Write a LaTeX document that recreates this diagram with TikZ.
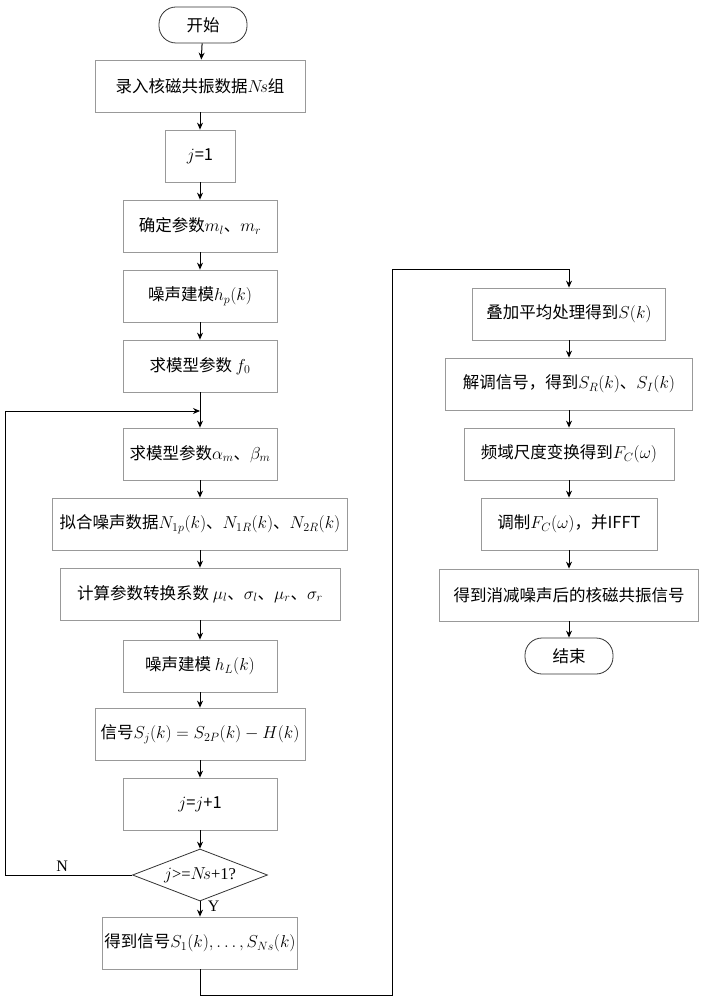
\documentclass[tikz,border=0pt]{standalone}
\usepackage{fontspec}
\setmainfont{Liberation Serif}
\newfontfamily\cjk{Noto Sans CJK SC}
\usetikzlibrary{shapes.geometric,arrows.meta}
\begin{document}
\begin{tikzpicture}[x=1pt,y=-1pt,
  box/.style={draw=gray!80,line width=0.8pt,minimum height=52pt,inner sep=2pt,font=\fontsize{16.5}{19}\selectfont\cjk},
  term/.style={draw=black!80,line width=0.8pt,rounded corners=17pt,minimum width=88pt,minimum height=36pt,font=\fontsize{16.5}{19}\selectfont\cjk},
  arr/.style={-{Stealth[length=7pt,width=6pt]},line width=1pt},
  lab/.style={font=\fontsize{16}{18}\selectfont}]
\useasboundingbox (0,0) rectangle (702,1000);
\node[term] (start) at (203,25) {开始};
\node[box,minimum width=210pt] (b1) at (200,86) {录入核磁共振数据$N\!s$组};
\node[box,minimum width=70pt] (b2) at (200,156) {$j$=1};
\node[box,minimum width=154pt] (b3) at (200,226) {确定参数$m_l$、$m_r$};
\node[box,minimum width=154pt] (b4) at (200,296) {噪声建模$h_p(k)$};
\node[box,minimum width=154pt] (b5) at (200,366) {求模型参数 $f_0$};
\node[box,minimum width=154pt] (b6) at (200,454) {求模型参数$\alpha_m$、$\beta_m$};
\node[box,minimum width=295pt] (b7) at (200,524) {拟合噪声数据$N_{1p}(k)$、$N_{1R}(k)$、$N_{2R}(k)$};
\node[box,minimum width=280pt] (b8) at (200,594) {计算参数转换系数 $\mu_l$、$\sigma_l$、$\mu_r$、$\sigma_r$};
\node[box,minimum width=154pt] (b9) at (200,666) {噪声建模 $h_L(k)$};
\node[box,minimum width=210pt] (b10) at (200,734) {信号$S_j(k)=S_{2P}(k)-H(k)$};
\node[box,minimum width=154pt] (b11) at (200,804) {$j$=$j$+1};
\node[diamond,aspect=2.6,draw=black!80,line width=0.8pt,minimum width=135pt,minimum height=52pt,inner sep=0pt,font=\fontsize{16.5}{19}\selectfont] (d) at (200,875) {$j$>=$N\!s$+1?};
\node[box,minimum width=190pt] (b12) at (200,943) {得到信号$S_1(k),\ldots,S_{Ns}(k)$};
\node[box,minimum width=193pt] (r1) at (569,314) {叠加平均处理得到$S(k)$};
\node[box,minimum width=247pt] (r2) at (569,384) {解调信号，得到$S_R(k)$、$S_I(k)$};
\node[box,minimum width=210pt] (r3) at (569,454) {频域尺度变换得到$F_C(\omega)$};
\node[box,minimum width=176pt] (r4) at (569,524) {调制$F_C(\omega)$，并IFFT};
\node[box,minimum width=259pt] (r5) at (569,595) {得到消减噪声后的核磁共振信号};
\node[term] (end) at (569,656) {结束};
\coordinate (j) at (200,411);
\coordinate (c1) at (200,995);
\coordinate (c2) at (392,995);
\coordinate (c3) at (392,269);
\coordinate (c4) at (569,269);
\coordinate (l1) at (5,875);
\coordinate (l2) at (5,411);
\draw[arr] (start) -- (b1);
\draw[arr] (b1) -- (b2);
\draw[arr] (b2) -- (b3);
\draw[arr] (b3) -- (b4);
\draw[arr] (b4) -- (b5);
\draw[arr] (b5) -- (b6);
\draw[arr] (b6) -- (b7);
\draw[arr] (b7) -- (b8);
\draw[arr] (b8) -- (b9);
\draw[arr] (b9) -- (b10);
\draw[arr] (b10) -- (b11);
\draw[arr] (b11) -- (d);
\draw[arr] (d) -- node[right,pos=0.3,lab,xshift=4pt]{Y} (b12);
\draw[arr] (d.west) -- node[above,pos=0.55,lab]{N} (l1) -- (l2) -- (j);
\draw[arr] (b12) -- (c1) -- (c2) -- (c3) -- (c4) -- (r1);
\draw[arr] (r1) -- (r2);
\draw[arr] (r2) -- (r3);
\draw[arr] (r3) -- (r4);
\draw[arr] (r4) -- (r5);
\draw[arr] (r5) -- (end);
\end{tikzpicture}
\end{document}
